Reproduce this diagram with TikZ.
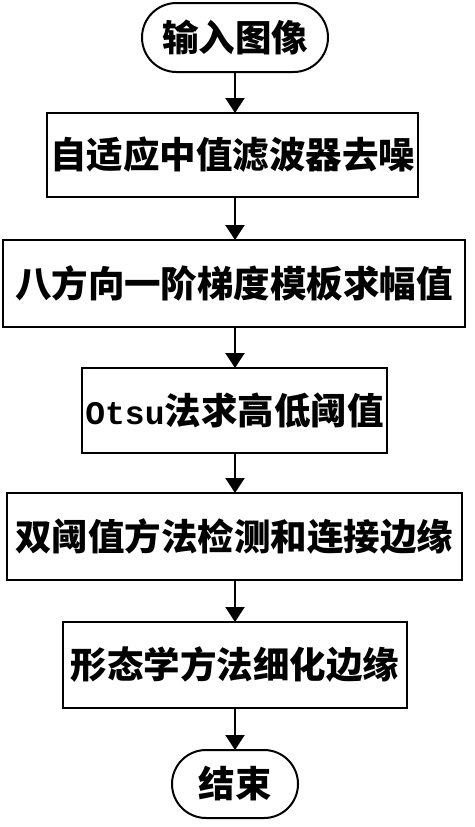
\documentclass[tikz,border=0pt]{standalone}
\usepackage{fontspec}
\newfontfamily\cjk{Noto Sans CJK SC}
\newfontfamily\lmono{Liberation Mono}
\usetikzlibrary{shapes.misc,arrows.meta}
\tikzset{
  boxstyle/.style={draw, line width=2pt, rectangle, inner sep=0pt, outer sep=0pt, font=\cjk\bfseries\fontsize{36.5}{42}\selectfont},
  termstyle/.style={draw, line width=2pt, rounded rectangle, inner sep=0pt, outer sep=0pt, font=\cjk\bfseries\fontsize{36.5}{42}\selectfont},
  flow/.style={line width=2pt, -{Triangle[length=15pt,width=19pt]}}
}
\begin{document}
\begin{tikzpicture}[x=1pt,y=-1pt]
\useasboundingbox (0,0) rectangle (474,827);
\node[termstyle, minimum width=186pt, minimum height=69pt] (start) at (235,37.5) {输入图像};
\node[boxstyle, minimum width=371pt, minimum height=84pt] (b1) at (232.5,155) {自适应中值滤波器去噪};
\node[boxstyle, minimum width=462pt, minimum height=87pt] (b2) at (234,283.5) {八方向一阶梯度模板求幅值};
\node[boxstyle, minimum width=305pt, minimum height=85pt] (b3) at (234.5,410.5) {{\lmono\bfseries\fontsize{33}{42}\selectfont Otsu}法求高低阈值};
\node[boxstyle, minimum width=455pt, minimum height=87pt] (b4) at (234.5,536.5) {双阈值方法检测和连接边缘};
\node[boxstyle, minimum width=344pt, minimum height=86pt] (b5) at (235,665) {形态学方法细化边缘};
\node[termstyle, minimum width=126pt, minimum height=68pt] (end) at (235,784) {结束};
\draw[flow] (start.south) -- (start.south |- b1.north);
\draw[flow] (start.south |- b1.south) -- (start.south |- b2.north);
\draw[flow] (start.south |- b2.south) -- (start.south |- b3.north);
\draw[flow] (start.south |- b3.south) -- (start.south |- b4.north);
\draw[flow] (start.south |- b4.south) -- (start.south |- b5.north);
\draw[flow] (start.south |- b5.south) -- (end.north);
\end{tikzpicture}
\end{document}
